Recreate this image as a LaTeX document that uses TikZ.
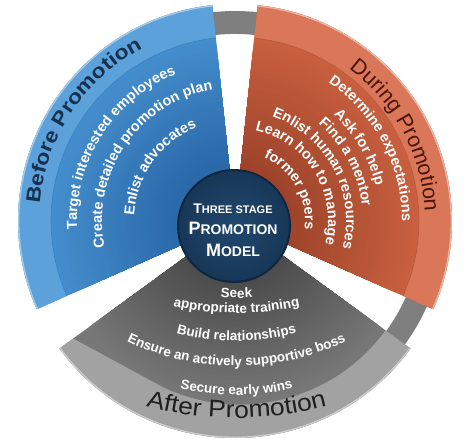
\documentclass[tikz,border=0pt]{standalone}
\usepackage{fontspec}
\setmainfont{Liberation Sans}
\newfontfamily\titlebfont[FakeStretch=1.15]{Liberation Sans}
\newfontfamily\titleafont[FakeStretch=1.1]{Liberation Sans}
\usetikzlibrary{decorations.text,calc}
\definecolor{bluerim}{HTML}{5CA1D9}
\definecolor{blueout}{HTML}{448DCC}
\definecolor{bluein}{HTML}{2A68A8}
\definecolor{redrim}{HTML}{DA7759}
\definecolor{redout}{HTML}{C8603F}
\definecolor{redin}{HTML}{9E432A}
\definecolor{grayrim}{HTML}{A2A2A2}
\definecolor{grayout}{HTML}{777777}
\definecolor{grayin}{HTML}{4A4A4A}
\definecolor{ringgray}{HTML}{7F7F7F}
\definecolor{navy}{HTML}{173757}
\definecolor{navylight}{HTML}{22486E}
\definecolor{navyedge}{HTML}{0E263F}
\definecolor{btitle}{HTML}{16314F}
\definecolor{rtitle}{HTML}{4A150A}
\definecolor{atitle}{HTML}{1F1F1F}
\newcommand\itemfnt{\bfseries\fontsize{14.5}{16}\selectfont}
\newcommand\afterfnt{\bfseries\fontsize{13.5}{15}\selectfont}
\newcommand\mysector[4]{%
  \fill[#3] (0,0) -- (#1:217) arc[start angle=#1,end angle=#2,radius=217] -- cycle;
  \foreach \k in {1,...,30}{%
    \pgfmathsetmacro\rr{184-\k*4.2}%
    \pgfmathtruncatemacro\pc{\k*100/30}%
    \fill[#4!\pc!#3] (0,0) -- (#1:\rr) arc[start angle=#1,end angle=#2,radius=\rr] -- cycle;
  }%
}
\tikzset{
  wtext/.style={decorate, decoration={text along path, text align=center, text color=white, text={|\itemfnt|#1}}},
  atext/.style={decorate, decoration={text along path, text align=center, text color=white, text={|\afterfnt|#1}}},
}
\begin{document}
\begin{tikzpicture}[x=1pt,y=1pt]
\useasboundingbox (0,0) rectangle (474,440);
\begin{scope}[shift={(235,219)}]
% connecting ring
\fill[ringgray] (-40:210) arc[start angle=-40,end angle=200,radius=210] -- (200:187) arc[start angle=200,end angle=-40,radius=187] -- cycle;
% sectors
\mysector{96}{204}{blueout}{bluein}
\mysector{-24}{84}{redout}{redin}
\mysector{216}{324}{grayout}{grayin}
% rims
\fill[bluerim] (96:217) arc[start angle=96,end angle=204,radius=217] -- (204:184) arc[start angle=204,end angle=96,radius=184] -- cycle;
\fill[redrim] (-24:217) arc[start angle=-24,end angle=84,radius=217] -- (84:184) arc[start angle=84,end angle=-24,radius=184] -- cycle;
\fill[grayrim] (216:217) arc[start angle=216,end angle=324,radius=217] -- (324:186) arc[start angle=324,end angle=245,radius=180] -- (216:200) -- cycle;
\draw[bluerim!55!white, line width=1.4] (96:216.3) arc[start angle=96,end angle=204,radius=216.3];
\draw[redrim!55!white, line width=1.4] (-24:216.3) arc[start angle=-24,end angle=84,radius=216.3];
\draw[grayrim!55!white, line width=1.4] (216:216.3) arc[start angle=216,end angle=324,radius=216.3];
\draw[bluein, line width=0.6, opacity=0.5] (96:184) arc[start angle=96,end angle=204,radius=184];
\draw[redin, line width=0.6, opacity=0.5] (-24:184) arc[start angle=-24,end angle=84,radius=184];
% titles
\path[decorate, decoration={text along path, text align=center, text color=btitle, text={|\titlebfont\bfseries\fontsize{20}{24}\selectfont|Before Promotion}}] (186.5:196) arc[start angle=186.5,end angle=106.5,radius=196];
\path[decorate, decoration={text along path, text align=center, text color=rtitle, text={|\fontsize{21.5}{25}\selectfont|During Promotion}}] (63:190) arc[start angle=63,end angle=-7,radius=190];
\path[decorate, decoration={text along path, text align=center, text color=atitle, text={|\titleafont\fontsize{24}{28}\selectfont|After Promotion}}] ($(1.5,153)+(250:350)$) arc[start angle=250,end angle=290,radius=350];
% before items
\path[wtext={Target interested employees}] (192.5:158) arc[start angle=192.5,end angle=102.5,radius=158];
\path[wtext={Create detailed promotion plan}] (195.5:133) arc[start angle=195.5,end angle=95.5,radius=133];
\path[wtext={Enlist advocates}] (189.5:101) arc[start angle=189.5,end angle=99.5,radius=101];
% during items
\path[wtext={Determine expectations}] (68:167) arc[start angle=68,end angle=-12,radius=167];
\path[wtext={Ask for help}] (60.6:145) arc[start angle=60.6,end angle=0.6,radius=145];
\path[wtext={Find a mentor}] (63:128) arc[start angle=63,end angle=-7,radius=128];
\path[wtext={Enlist human resources}] (83:111) arc[start angle=83,end angle=-27,radius=111];
\path[wtext={Learn how to manage}] (91.6:93) arc[start angle=91.6,end angle=-28.4,radius=93];
\path[wtext={former peers}] (84.4:70) arc[start angle=84.4,end angle=-25.6,radius=70];
% after items
\path[atext={Seek}] ($(1.5,223)+(260:300)$) arc[start angle=260,end angle=280,radius=300];
\path[atext={appropriate training}] ($(1.5,208)+(250:300)$) arc[start angle=250,end angle=290,radius=300];
\path[atext={Build relationships}] ($(1.5,110)+(245:230)$) arc[start angle=245,end angle=295,radius=230];
\path[atext={Ensure an actively supportive boss}] ($(1.5,110)+(235:255)$) arc[start angle=235,end angle=305,radius=255];
\path[atext={Secure early wins}] ($(1.5,66)+(245:240)$) arc[start angle=245,end angle=295,radius=240];
% centre
\node[circle, minimum size=112pt, inner sep=0pt, inner color=navylight, outer color=navy, draw=navyedge, line width=2pt] (core) at (-1,-5) {};
\node[anchor=base, text=white, font=\bfseries, inner sep=0pt] (t1) at (-2,8) {{\fontsize{14}{14}\selectfont T}{\fontsize{11}{11}\selectfont HREE STAGE}};
\node[anchor=base, text=white, font=\bfseries, inner sep=0pt] (t2) at (-2,-13.5) {{\fontsize{18}{18}\selectfont P}{\fontsize{14}{14}\selectfont ROMOTION}};
\node[anchor=base, text=white, font=\bfseries, inner sep=0pt] (t3) at (-2,-35.5) {{\fontsize{18}{18}\selectfont M}{\fontsize{14}{14}\selectfont ODEL}};
\end{scope}
\end{tikzpicture}
\end{document}
